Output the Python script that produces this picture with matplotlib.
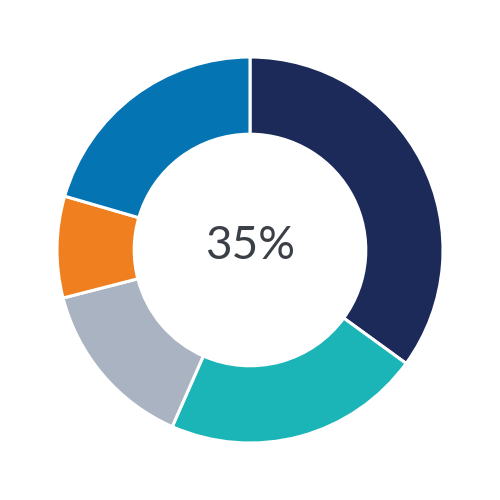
import matplotlib
matplotlib.use("Agg")
import matplotlib.pyplot as plt

# Slice shares (percent), clockwise from 12 o'clock
labels = ["Navy", "Teal", "Grey", "Orange", "Blue"]
values = [35, 21.6, 14.4, 8.5, 20.5]
colors = ["#1c2a5a", "#1bb5b7", "#a9b3c1", "#f07f1f", "#0474b3"]
center_label = "35%"

fig = plt.figure(figsize=(5, 5), dpi=100)
ax = fig.add_axes([0, 0, 1, 1])

ax.pie(values, colors=colors, startangle=90, counterclock=False,
       radius=1.0,
       wedgeprops=dict(width=0.40, edgecolor="white", linewidth=2.2))

ax.text(0, 0.02, center_label, ha="center", va="center",
        fontsize=33, color="#3b3f46", family=["Lato", "DejaVu Sans"])

lim = 500 / (2 * 193)
ax.set_xlim(-lim, lim)
ax.set_ylim(-lim, lim)
ax.set_aspect("equal")
ax.axis("off")

plt.savefig("out.png", dpi=100, facecolor="white")
plt.close()
